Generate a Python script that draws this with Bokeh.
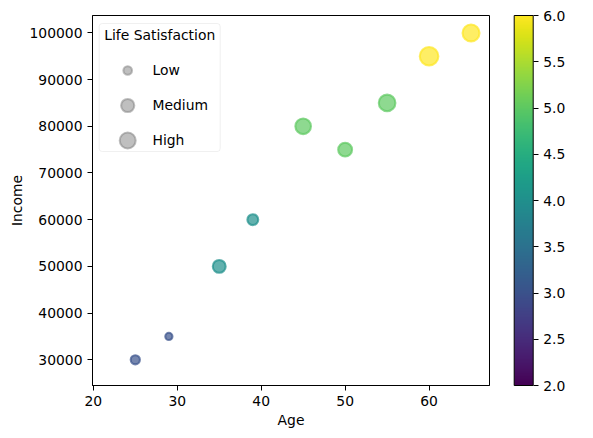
import math
from bokeh.plotting import figure
from bokeh.models import (Range1d, SingleIntervalTicker, NumeralTickFormatter, ColorBar,
                          LinearColorMapper, PrintfTickFormatter, Label, BoxAnnotation,
                          ColumnDataSource, FixedTicker)
from bokeh.palettes import Viridis256
from bokeh.core.properties import value
from bokeh.embed import file_html
from bokeh.resources import INLINE

# ---------------- data ----------------
age = [25, 29, 35, 39, 45, 50, 55, 60, 65]
income = [30000, 35000, 50000, 60000, 80000, 75000, 85000, 95000, 100000]
education_level = [3, 3, 4, 4, 5, 5, 5, 6, 6]
life_satisfaction = [2.3, 1.4, 4.5, 3.2, 6.6, 5.2, 7.5, 9.4, 7.8]

legend_title = "Life Satisfaction"
legend_labels = ["Low", "Medium", "High"]
legend_levels = [2.0, 4.7, 6.9]

colorbar_ticks = [2.0, 2.5, 3.0, 3.5, 4.0, 4.5, 5.0, 5.5, 6.0]
x_ticks_interval = 10
y_ticks_interval = 10000

# ---------------- styling / layout ----------------
FONT = "DejaVu Sans"
FS = "13.9px"
FW, FH = 397, 370          # frame size in px
EDGE = 2.08


def marker_size(v):
    return 6.07 * math.sqrt(v)


mapper = LinearColorMapper(palette=Viridis256, low=2, high=6)

p = figure(width=92 + FW + 96, height=15 + FH + 45, output_backend="svg", toolbar_location=None,
           x_range=Range1d(19.9, 67.2), y_range=Range1d(24490, 103730),
           min_border_left=92, min_border_right=96, min_border_top=15, min_border_bottom=45,
           x_axis_label="Age", y_axis_label="Income")
p.extra_x_ranges = {"px": Range1d(0, FW)}
p.extra_y_ranges = {"px": Range1d(0, FH)}

p.grid.visible = False
p.outline_line_color = "black"
p.outline_line_width = 1
p.background_fill_color = "white"
p.border_fill_color = "white"

for ax in (p.xaxis[0], p.yaxis[0]):
    ax.major_tick_in = 0
    ax.major_tick_out = 5
    ax.minor_tick_line_color = None
    ax.axis_line_color = "black"
    ax.major_tick_line_color = "black"
    ax.major_label_text_font = FONT
    ax.major_label_text_font_size = FS
    ax.major_label_text_color = "black"
    ax.major_label_standoff = 5
    ax.axis_label_text_font = FONT
    ax.axis_label_text_font_size = FS
    ax.axis_label_text_font_style = "normal"
    ax.axis_label_text_color = "black"

p.xaxis[0].ticker = SingleIntervalTicker(interval=x_ticks_interval, num_minor_ticks=0)
p.yaxis[0].ticker = SingleIntervalTicker(interval=y_ticks_interval, num_minor_ticks=0)
p.yaxis[0].formatter = NumeralTickFormatter(format="0")
p.xaxis[0].axis_label_standoff = 3
p.yaxis[0].axis_label_standoff = 1

# ---------------- points ----------------
src = ColumnDataSource(dict(
    age=age, income=income, edu=education_level,
    size=[marker_size(v) for v in life_satisfaction],
))
cmap_spec = {"field": "edu", "transform": mapper}
p.scatter("age", "income", source=src, size="size",
          fill_color=cmap_spec, line_color=cmap_spec,
          fill_alpha=0.7, line_alpha=0.7, line_width=EDGE)

# ---------------- size legend (frame-pixel coordinates) ----------------
LEG_L, LEG_R, LEG_T, LEG_B = 6.7, 127.7, 362, 234
box = BoxAnnotation(left=LEG_L, right=LEG_R, top=LEG_T, bottom=LEG_B,
                    x_range_name="px", y_range_name="px",
                    fill_color="white", fill_alpha=0.8,
                    line_color="#cccccc", line_width=1, border_radius=3)
p.add_layout(box)

row_y = [LEG_T - 47 - 35 * i for i in range(len(legend_labels))]
p.scatter(x=[35.2] * len(legend_levels), y=row_y,
          size=[marker_size(v) for v in legend_levels],
          x_range_name="px", y_range_name="px",
          fill_color="gray", line_color="gray", fill_alpha=0.5, line_alpha=0.5,
          line_width=EDGE, level="overlay")
p.text(x=[60] * len(legend_labels), y=[y + 1 for y in row_y], text=legend_labels,
       x_range_name="px", y_range_name="px",
       text_font=value(FONT), text_font_size=FS, text_color="black",
       text_align="left", text_baseline="middle", level="overlay")
p.text(x=[(LEG_L + LEG_R) / 2], y=[LEG_T - 11], text=[legend_title],
       x_range_name="px", y_range_name="px",
       text_font=value(FONT), text_font_size=FS, text_color="black",
       text_align="center", text_baseline="middle", level="overlay")

# ---------------- colour bar ----------------
cb = ColorBar(color_mapper=mapper, ticker=FixedTicker(ticks=colorbar_ticks),
              formatter=PrintfTickFormatter(format="%.1f"),
              width=19, height=FH, location=(FW + 24.7, 0),
              padding=0, margin=0, bar_line_color="black", bar_line_width=1,
              major_tick_in=0, major_tick_out=5, major_tick_line_color="black",
              minor_tick_line_color=None, label_standoff=5,
              major_label_text_font=FONT, major_label_text_font_size=FS,
              major_label_text_color="black",
              background_fill_color=None, border_line_color=None)
p.add_layout(cb)

p.add_layout(Label(x=FW + 89, y=FH / 2, x_range_name="px", y_range_name="px",
                   text="Education Level", angle=math.pi / 2,
                   text_font=FONT, text_font_size=FS, text_color="black",
                   text_align="center", text_baseline="middle"))

open("out.html", "w").write(file_html(p, INLINE))
